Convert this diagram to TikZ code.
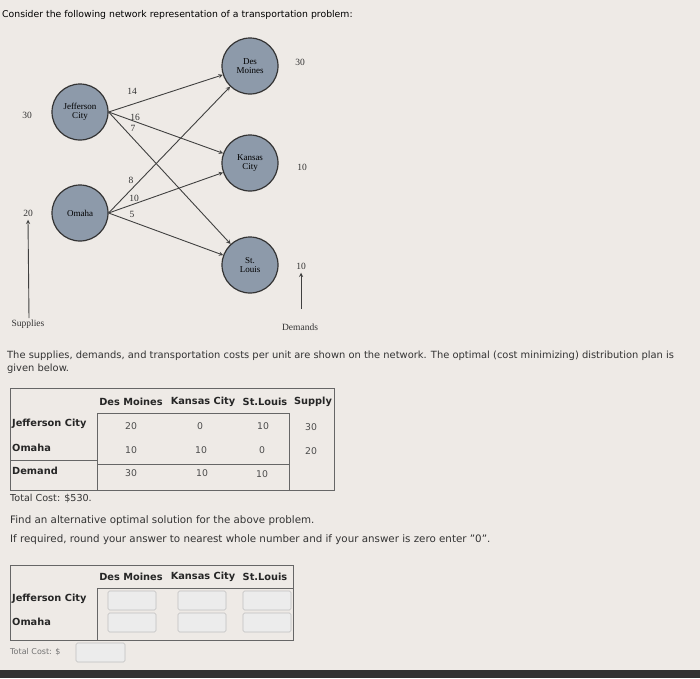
\documentclass[tikz,border=0pt]{standalone}
\usepackage{fontspec}
\setmainfont{DejaVu Sans}
\newfontfamily\serifnet{Liberation Serif}
\definecolor{nodecol}{HTML}{8D9AAA}
\definecolor{bgcol}{HTML}{EEEAE6}
\begin{document}
\begin{tikzpicture}[x=1pt,y=-1pt,
  city/.style={circle,draw=black!80,line width=1.2pt,fill=nodecol,minimum size=56pt,inner sep=0pt,font=\serifnet\fontsize{9}{8.5}\selectfont,align=center},
  net/.style={font=\serifnet\fontsize{9.5}{9}\selectfont,text=black!80},
  edge/.style={->,>=stealth,draw=black!75,line width=0.9pt},
  txt/.style={anchor=west,font=\fontsize{9.9}{11}\selectfont,inner sep=0pt,text=black!80},
  bold/.style={font=\bfseries\fontsize{9.8}{10}\selectfont,inner sep=0pt,text=black!85},
  val/.style={font=\fontsize{9.3}{10}\selectfont,inner sep=0pt,text=black!70},
  box/.style={draw=black!60,line width=0.8pt},
  inbox/.style={draw=black!25,fill=white!85!gray,rounded corners=1.5pt,line width=0.6pt}]
\useasboundingbox (0,0) rectangle (700,678);
\fill[bgcol] (0,0) rectangle (700,678);
\fill[black!80] (0,670) rectangle (700,678);
\node[txt,text=black,font=\fontsize{9.3}{11}\selectfont] (title) at (2,15) {Consider the following network representation of a transportation problem:};
% network
\node[city] (jc) at (80,112) {Jefferson\\City};
\node[city] (om) at (80,213) {Omaha};
\node[city] (dm) at (250,66) {Des\\Moines};
\node[city] (kc) at (250,163) {Kansas\\City};
\node[city] (sl) at (250,265) {St.\\Louis};
\draw[edge] (jc.east) -- (dm);
\draw[edge] (jc.east) -- (kc);
\draw[edge] (jc.east) -- (sl);
\draw[edge] (om.east) -- (dm);
\draw[edge] (om.east) -- (kc);
\draw[edge] (om.east) -- (sl);
\node[net] (c1) at (132,91) {14};
\node[net] (c2) at (135,117) {16};
\node[net] (c3) at (133,128) {7};
\node[net] (c4) at (131,180) {8};
\node[net] (c5) at (134,198) {10};
\node[net] (c6) at (132,214) {5};
\node[net] (s1) at (27,115) {30};
\node[net] (s2) at (28,213) {20};
\node[net] (d1) at (300,62) {30};
\node[net] (d2) at (302,167) {10};
\node[net] (d3) at (301,266) {10};
\node[net] (sup) at (28,324) {Supplies};
\node[net] (dem) at (300,327) {Demands};
\coordinate (sa) at (29,318);
\coordinate (da) at (301,309);
\draw[edge] (sa) -- (s2.south);
\draw[edge] (da) -- (d3.south);
% text
\node[txt] (p1) at (7,356) {The supplies, demands, and transportation costs per unit are shown on the network. The optimal (cost minimizing) distribution plan is};
\node[txt] (p2) at (7,369) {given below.};
% table 1
\draw[box] (10,388) rectangle (334,490);
\draw[box] (97,413) rectangle (289,464);
\draw[box] (289,413) -- (289,490);
\draw[box] (97,464) -- (97,490);
\draw[box] (10,460) -- (97,460);
\node[bold] (h1) at (131,402) {Des Moines};
\node[bold] (h2) at (203,402) {Kansas City};
\node[bold] (h3) at (265,402) {St.Louis};
\node[bold] (h4) at (313,402) {Supply};
\node[bold,anchor=west] (r1) at (12,424) {Jefferson City};
\node[bold,anchor=west] (r2) at (12,448) {Omaha};
\node[bold,anchor=west] (r3) at (12,471) {Demand};
\node[val] at (131,426) {20};
\node[val] at (200,426) {0};
\node[val] at (263,426) {10};
\node[val] at (311,427) {30};
\node[val] at (131,450) {10};
\node[val] at (201,450) {10};
\node[val] at (262,450) {0};
\node[val] at (311,451) {20};
\node[val] at (131,473) {30};
\node[val] at (202,473) {10};
\node[val] at (262,474) {10};
\node[txt,font=\fontsize{9.6}{10}\selectfont] (t1) at (10,499) {Total Cost: \$530.};
\node[txt,font=\fontsize{10.3}{10}\selectfont] (t2) at (10,521) {Find an alternative optimal solution for the above problem.};
\node[txt,font=\fontsize{10.3}{10}\selectfont] (t3) at (10,540) {If required, round your answer to nearest whole number and if your answer is zero enter "0".};
% table 2
\draw[box] (10,565) rectangle (293,640);
\draw[box] (97,588) rectangle (293,640);
\node[bold] (g1) at (131,577) {Des Moines};
\node[bold] (g2) at (203,577) {Kansas City};
\node[bold] (g3) at (265,577) {St.Louis};
\node[bold,anchor=west] (q1) at (12,599) {Jefferson City};
\node[bold,anchor=west] (q2) at (12,622) {Omaha};
\foreach \x/\n in {108/a,178/b,243/c}{
  \draw[inbox] (\x,591) rectangle ++(48,19);
  \draw[inbox] (\x,613) rectangle ++(48,19);
}
\node[txt,font=\fontsize{8}{8}\selectfont,text=black!55] (tc) at (10,652) {Total Cost: \$};
\draw[inbox] (76,643) rectangle (125,662);
\end{tikzpicture}
\end{document}
